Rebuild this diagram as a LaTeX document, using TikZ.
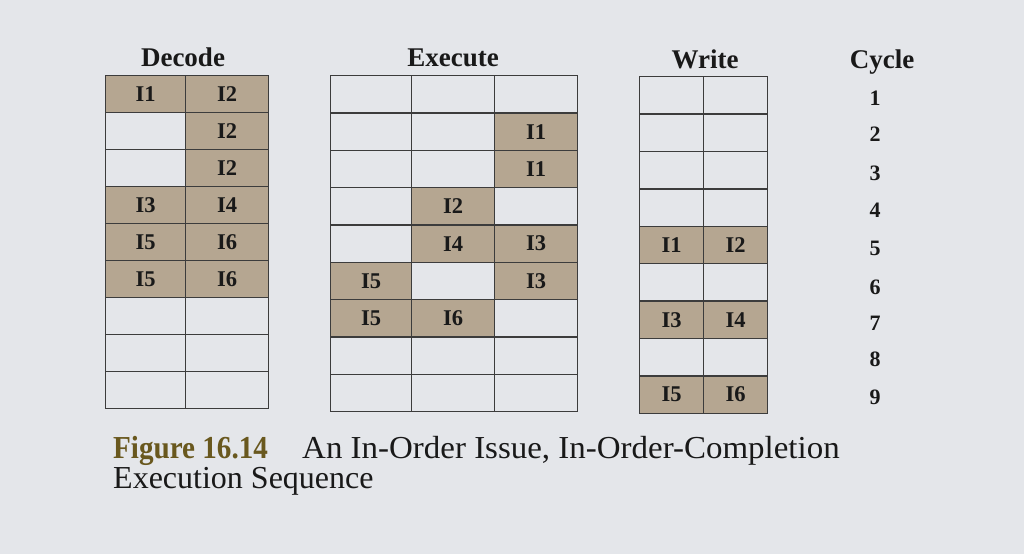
\documentclass[tikz,border=0pt]{standalone}
\usepackage{fontspec}
\setmainfont{Liberation Serif}
\definecolor{bg}{RGB}{228,230,234}
\definecolor{sh}{RGB}{181,166,145}
\definecolor{ink}{RGB}{25,25,25}
\definecolor{olive}{RGB}{105,88,30}
\tikzset{
 hdr/.style={font=\fontsize{27}{30}\selectfont\bfseries, text=ink, anchor=base, inner sep=0pt},
 cell/.style={draw=ink!85, line width=1.3pt, anchor=north west, inner sep=0pt, font=\fontsize{22.5}{25}\selectfont\bfseries, text=ink},
 cyc/.style={font=\fontsize{22}{24}\selectfont\bfseries, text=ink, inner sep=0pt},
 captext/.style={anchor=base west, inner sep=0pt, text=ink, font=\fontsize{32}{34}\selectfont},
}
\begin{document}
\begin{tikzpicture}[x=1pt,y=-1pt]
\useasboundingbox (0,0) rectangle (1024,554);
\fill[bg] (0,0) rectangle (1024,554);
% headers
\node[hdr] (hdec) at (183,66) {Decode};
\node[hdr] (hexe) at (453,66) {Execute};
\node[hdr] (hwri) at (705,68) {Write};
\node[hdr] (hcyc) at (882,68) {Cycle};
% Decode
\foreach \r/\ta/\fa/\tb/\fb in {1/I1/sh/I2/sh, 2/{}/bg/I2/sh, 3/{}/bg/I2/sh, 4/I3/sh/I4/sh, 5/I5/sh/I6/sh, 6/I5/sh/I6/sh, 7/{}/bg/{}/bg, 8/{}/bg/{}/bg, 9/{}/bg/{}/bg}{
  \node[cell, fill=\fa, minimum width=80pt, minimum height=37pt, name=dec-\r-1] at (105,{75+37*(\r-1)}) {\ta};
  \node[cell, fill=\fb, minimum width=83pt, minimum height=37pt, name=dec-\r-2] at (185,{75+37*(\r-1)}) {\tb};
}
% Execute
\foreach \r/\ta/\fa/\tb/\fb/\tc/\fc in {1/{}/bg/{}/bg/{}/bg, 2/{}/bg/{}/bg/I1/sh, 3/{}/bg/{}/bg/I1/sh, 4/{}/bg/I2/sh/{}/bg, 5/{}/bg/I4/sh/I3/sh, 6/I5/sh/{}/bg/I3/sh, 7/I5/sh/I6/sh/{}/bg, 8/{}/bg/{}/bg/{}/bg, 9/{}/bg/{}/bg/{}/bg}{
  \node[cell, fill=\fa, minimum width=81pt, minimum height=37.33pt, name=exe-\r-1] at (330,{75+37.33*(\r-1)}) {\ta};
  \node[cell, fill=\fb, minimum width=83pt, minimum height=37.33pt, name=exe-\r-2] at (411,{75+37.33*(\r-1)}) {\tb};
  \node[cell, fill=\fc, minimum width=83pt, minimum height=37.33pt, name=exe-\r-3] at (494,{75+37.33*(\r-1)}) {\tc};
}
% Write
\foreach \r/\ta/\fa/\tb/\fb in {1/{}/bg/{}/bg, 2/{}/bg/{}/bg, 3/{}/bg/{}/bg, 4/{}/bg/{}/bg, 5/I1/sh/I2/sh, 6/{}/bg/{}/bg, 7/I3/sh/I4/sh, 8/{}/bg/{}/bg, 9/I5/sh/I6/sh}{
  \node[cell, fill=\fa, minimum width=64pt, minimum height=37.4pt, name=wri-\r-1] at (639,{76+37.4*(\r-1)}) {\ta};
  \node[cell, fill=\fb, minimum width=64pt, minimum height=37.4pt, name=wri-\r-2] at (703,{76+37.4*(\r-1)}) {\tb};
}
% Cycle numbers
\foreach \n/\y in {1/98, 2/134, 3/173, 4/210, 5/248, 6/287, 7/323, 8/359, 9/397}{
  \node[cyc, name=cyc-\n] at (875,\y) {\n};
}
% caption
\node[captext, text=olive, font=\fontsize{32}{34}\selectfont\bfseries] (fig) at (113,458) {\scalebox{0.91}[1]{Figure 16.14}};
\node[captext] (cap1) at (302,458) {\scalebox{1.03}[1]{An In-Order Issue, In-Order-Completion}};
\node[captext] (cap2) at (113,488) {Execution Sequence};
\end{tikzpicture}
\end{document}
